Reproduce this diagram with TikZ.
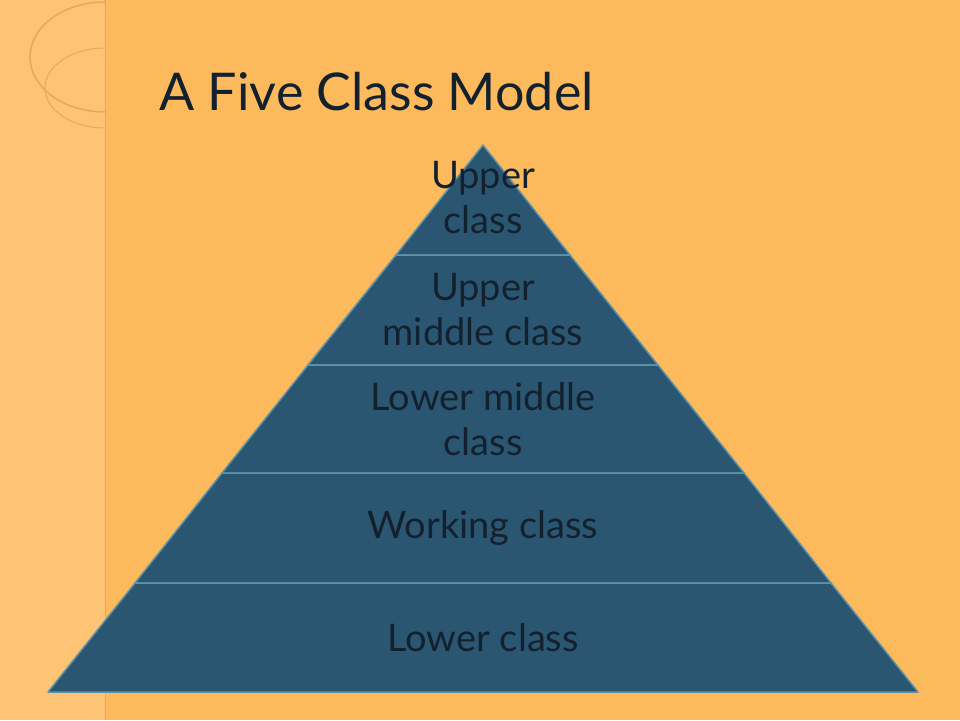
\documentclass[tikz,border=0pt]{standalone}
\usepackage{fontspec}
\setmainfont{Lato}
\begin{document}
\begin{tikzpicture}[x=1pt,y=-1pt,
  band/.style={fill=pyr,draw=edge,line width=1.5pt,line join=round},
  lbl/.style={text=txt,font=\fontsize{38}{45}\selectfont,align=center}]
\definecolor{bg}{HTML}{FDBA5C}
\definecolor{pyr}{HTML}{2B5672}
\definecolor{edge}{HTML}{5E93A8}
\definecolor{txt}{HTML}{13212E}
\definecolor{deco}{HTML}{E8A85A}
\fill[bg] (0,0) rectangle (960,720);
\useasboundingbox (0,0) rectangle (960,720);
% decoration
\fill[bg!85!white] (0,0) rectangle (105,720);
\draw[deco,line width=1pt] (105,0) -- (105,720);
\draw[deco,line width=1pt] (105,5) arc (0:-180:55 and 75);
\draw[deco,line width=1.5pt] (105,112) arc (90:270:75 and 55);
\draw[deco,line width=1pt] (105,128) arc (90:270:60 and 40);
\node[text=txt,font=\fontsize{52}{60}\selectfont,anchor=west] (title) at (156,92) {A Five Class Model};
% bands
\coordinate (a) at (483,145);
\path[band] (a) -- (570,255) -- (396,255) -- cycle;
\path[band] (396,255) -- (570,255) -- (658,365) -- (308,365) -- cycle;
\path[band] (308,365) -- (658,365) -- (744,473) -- (222,473) -- cycle;
\path[band] (222,473) -- (744,473) -- (831,583) -- (135,583) -- cycle;
\path[band] (135,583) -- (831,583) -- (918,692) -- (48,692) -- cycle;
\node[lbl] (u) at (483,198) {Upper\\class};
\node[lbl] (um) at (483,310) {Upper\\middle class};
\node[lbl] (lm) at (483,419) {Lower middle\\class};
\node[lbl] (w) at (483,528) {Working class};
\node[lbl] (l) at (483,638) {Lower class};
\end{tikzpicture}
\end{document}
